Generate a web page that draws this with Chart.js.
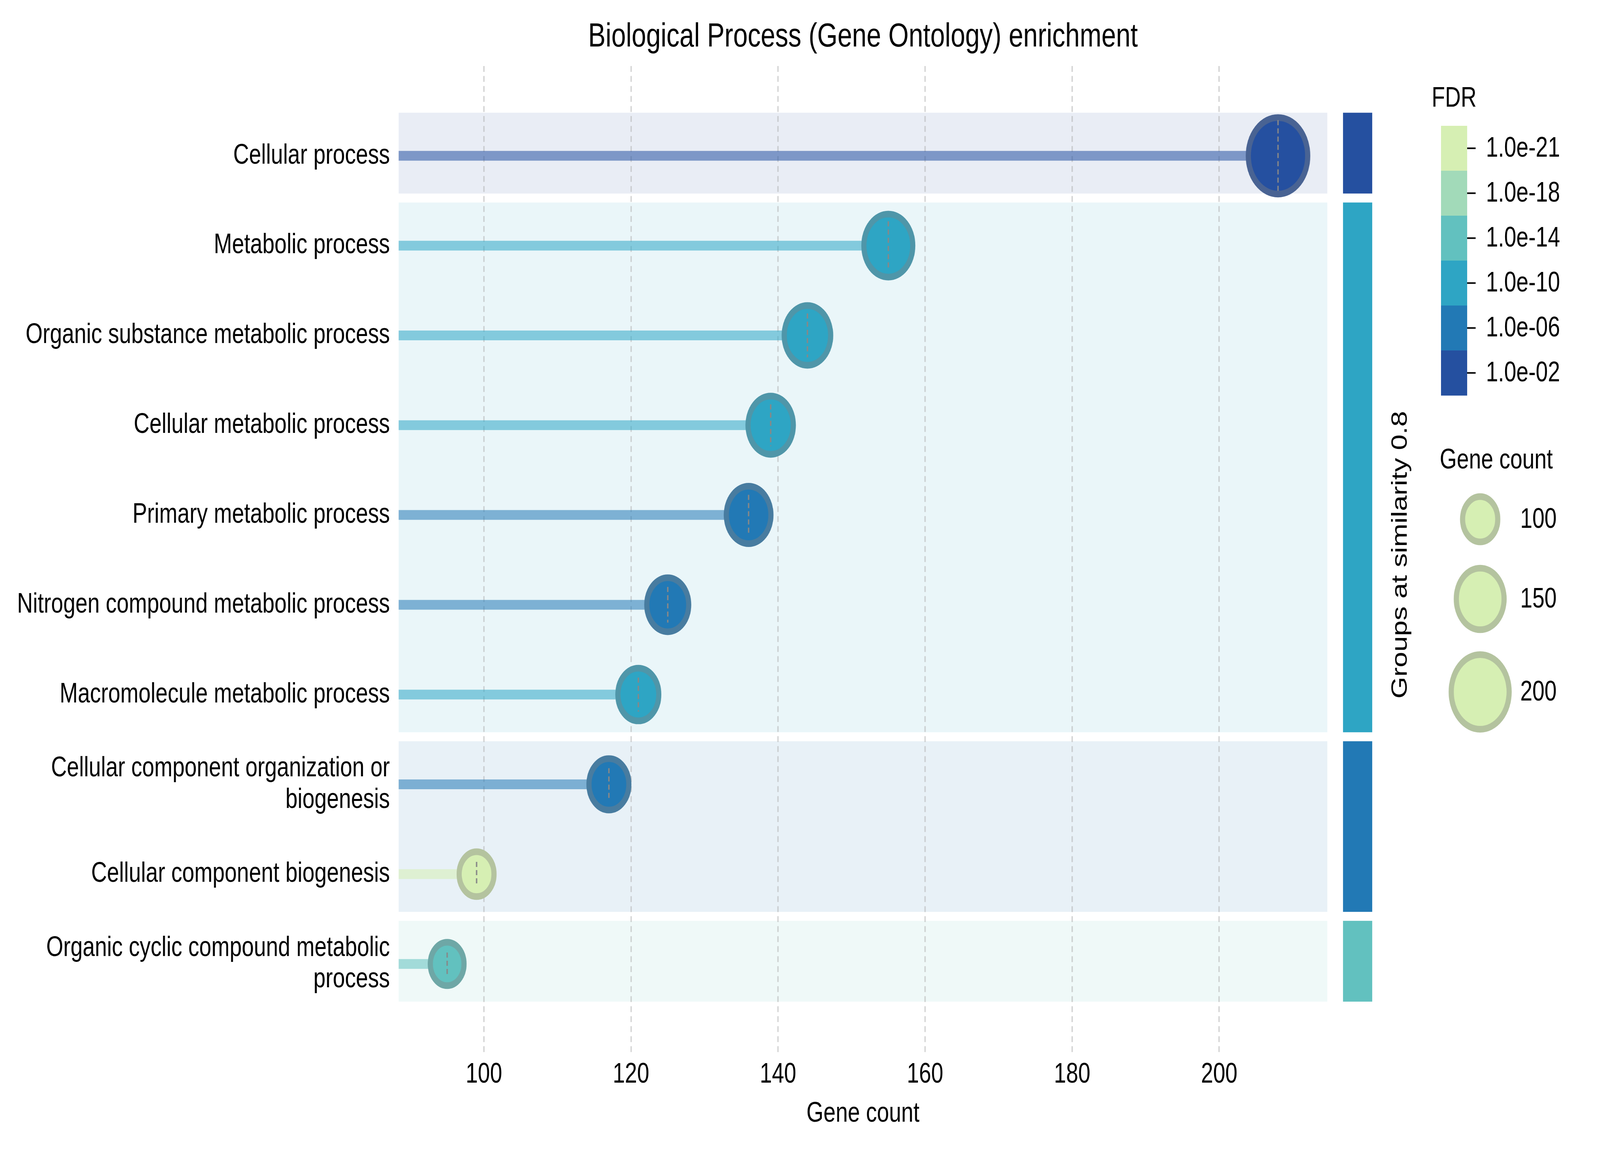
<!DOCTYPE html>
<html>
<head>
<meta charset="utf-8">
<script src="https://cdn.jsdelivr.net/npm/chart.js@4.4.1/dist/chart.umd.min.js"></script>
<style>
  html, body { margin: 0; padding: 0; background: #ffffff; overflow: hidden; }
  #wrap { position: absolute; left: 0; top: 0; width: 5274px; height: 2946px; transform-origin: 0 0; }
  #c { display: block; }
</style>
</head>
<body>
<div id="wrap"><canvas id="c" width="5274" height="2946"></canvas></div>
<script>
// ---------------- data ----------------
const chartTitle = 'Biological Process (Gene Ontology) enrichment';
const xAxisTitle = 'Gene count';
const categories = [
  'Cellular process',
  'Metabolic process',
  'Organic substance metabolic process',
  'Cellular metabolic process',
  'Primary metabolic process',
  'Nitrogen compound metabolic process',
  'Macromolecule metabolic process',
  'Cellular component organization or biogenesis',
  'Cellular component biogenesis',
  'Organic cyclic compound metabolic process'
];
const geneCounts = [208, 155, 144, 139, 136, 125, 121, 117, 99, 95];
const fdrValues = [1e-2, 1e-10, 1e-10, 1e-10, 1e-6, 1e-6, 1e-10, 1e-6, 1e-21, 1e-14];
const fdrLevels = [1e-21, 1e-18, 1e-14, 1e-10, 1e-6, 1e-2];
const fdrTickLabels = ['1.0e-21', '1.0e-18', '1.0e-14', '1.0e-10', '1.0e-06', '1.0e-02'];
const fdrColors = ['#d6efb3', '#a2dab9', '#62c1bf', '#2ea5c4', '#2279b5', '#2550a0'];
const groupStarts = [0, 1, 7, 9];
const groupEnds = [0, 6, 8, 9];
const groupTitle = 'Groups at similarity 0.8';
const fdrTitle = 'FDR';
const sizeTitle = 'Gene count';
const sizeLegendValues = [100, 150, 200];
const xTicks = [100, 120, 140, 160, 180, 200];
const xMin = 88.4, xMax = 214.7;

// ---------------- fit the fixed-size drawing to the window ----------------
const W = 5274, H = 2946;
(function fit() {
  const sx = window.innerWidth / W, sy = window.innerHeight / H;
  document.getElementById('wrap').style.transform = `scale(${sx}, ${sy})`;
})();

// ---------------- helpers ----------------
const FONT = "'Liberation Sans', Arial, Helvetica, sans-serif";
Chart.defaults.font.family = FONT;
Chart.defaults.color = '#000000';

function hexToRgb(h) {
  h = h.replace('#', '');
  return [parseInt(h.substr(0, 2), 16), parseInt(h.substr(2, 2), 16), parseInt(h.substr(4, 2), 16)];
}
function rgba(h, a) { const c = hexToRgb(h); return `rgba(${c[0]},${c[1]},${c[2]},${a})`; }
function edgeOf(h) {
  const c = hexToRgb(h);
  const m = c.map(v => Math.round(v * 0.6 + 128 * 0.4));
  return `rgb(${m[0]},${m[1]},${m[2]})`;
}
function fdrColor(v) {
  let best = 0, bd = Infinity;
  fdrLevels.forEach((l, i) => {
    const d = Math.abs(Math.log10(l) - Math.log10(v));
    if (d < bd) { bd = d; best = i; }
  });
  return fdrColors[best];
}
const BW = 17;
function radiusFor(count) { return 8 * Math.sqrt(count - 31) - BW / 2; }
function wrap(s, w) {
  const words = s.split(' ');
  const lines = [];
  let cur = '';
  for (const wd of words) {
    if (!cur) cur = wd;
    else if ((cur + ' ' + wd).length <= w) cur += ' ' + wd;
    else { lines.push(cur); cur = wd; }
  }
  if (cur) lines.push(cur);
  return lines.length > 1 ? lines : lines[0];
}

const pointColors = fdrValues.map(fdrColor);

// ---------------- datasets ----------------
const bubbleDataset = {
  type: 'bubble',
  label: 'GO terms',
  order: 0,
  data: geneCounts.map((c, i) => ({ x: c, y: i, r: radiusFor(c) })),
  backgroundColor: pointColors,
  borderColor: pointColors.map(edgeOf),
  borderWidth: BW
};
const stemDatasets = geneCounts.map((c, i) => ({
  type: 'line',
  label: 'stem ' + i,
  order: 1,
  data: [{ x: xMin, y: i }, { x: c, y: i }],
  borderColor: rgba(pointColors[i], 0.55),
  borderWidth: 25,
  borderCapStyle: 'butt',
  pointRadius: 0,
  fill: false
}));

// ---------------- plugins ----------------
const bandPlugin = {
  id: 'bands',
  beforeDraw(chart) {
    const { ctx, chartArea } = chart;
    const y = chart.scales.y;
    ctx.save();
    groupStarts.forEach((s, g) => {
      const col = pointColors[s];
      const top = y.getPixelForValue(s - 0.48);
      const bot = y.getPixelForValue(groupEnds[g] + 0.42);
      ctx.fillStyle = rgba(col, 0.1);
      ctx.fillRect(chartArea.left, top, chartArea.right - chartArea.left, bot - top);
    });
    ctx.restore();
  }
};

const centerLinePlugin = {
  id: 'centerLines',
  afterDatasetsDraw(chart) {
    const { ctx } = chart;
    const xs = chart.scales.x, ys = chart.scales.y;
    ctx.save();
    ctx.strokeStyle = '#888888';
    ctx.lineWidth = 4.5;
    ctx.setLineDash([13, 8]);
    geneCounts.forEach((c, i) => {
      const px = xs.getPixelForValue(c);
      const py = ys.getPixelForValue(i);
      const h = 0.55 * (c - 42);
      ctx.beginPath();
      ctx.moveTo(px, py - h);
      ctx.lineTo(px, py + h);
      ctx.stroke();
    });
    ctx.restore();
  }
};

const decorPlugin = {
  id: 'decor',
  afterDraw(chart) {
    const { ctx, chartArea } = chart;
    const ys = chart.scales.y;
    const R = chartArea.right;
    ctx.save();
    // title
    ctx.fillStyle = '#000';
    ctx.font = `86px ${FONT}`;
    ctx.textAlign = 'center';
    ctx.textBaseline = 'alphabetic';
    ctx.fillText(chartTitle, (chartArea.left + chartArea.right) / 2, 119);

    // group strip
    groupStarts.forEach((s, g) => {
      const top = ys.getPixelForValue(s - 0.48);
      const bot = ys.getPixelForValue(groupEnds[g] + 0.42);
      ctx.fillStyle = pointColors[s];
      ctx.fillRect(R + 52, top, 96, bot - top);
    });

    // rotated group label
    ctx.save();
    ctx.translate(R + 242, (chartArea.top + chartArea.bottom) / 2 - 13);
    ctx.rotate(-Math.PI / 2);
    ctx.font = `72px ${FONT}`;
    ctx.fillStyle = '#000';
    ctx.textAlign = 'center';
    ctx.textBaseline = 'middle';
    ctx.fillText(groupTitle, 0, 0);
    ctx.restore();

    // FDR colorbar
    const cbX = R + 375, cbW = 86, cbTop = 322, segH = 115;
    ctx.font = `72px ${FONT}`;
    ctx.textAlign = 'center';
    ctx.textBaseline = 'alphabetic';
    ctx.fillStyle = '#000';
    ctx.fillText(fdrTitle, cbX + cbW / 2, 273);
    fdrColors.forEach((col, i) => {
      ctx.fillStyle = col;
      ctx.fillRect(cbX, cbTop + i * segH, cbW, segH + 0.5);
    });
    ctx.strokeStyle = '#000';
    ctx.lineWidth = 4;
    ctx.textAlign = 'left';
    ctx.textBaseline = 'middle';
    fdrTickLabels.forEach((t, i) => {
      const yy = cbTop + i * segH + segH / 2;
      ctx.beginPath();
      ctx.moveTo(cbX + cbW, yy);
      ctx.lineTo(cbX + cbW + 28, yy);
      ctx.stroke();
      ctx.fillStyle = '#000';
      ctx.fillText(t, cbX + cbW + 62, yy + 2);
    });

    // size legend
    ctx.textAlign = 'center';
    ctx.textBaseline = 'alphabetic';
    ctx.fillText(sizeTitle, R + 557, 1199);
    const bubbleYs = [1329, 1533, 1771];
    const legendFill = fdrColors[0];
    sizeLegendValues.forEach((v, i) => {
      const r = radiusFor(v);
      ctx.beginPath();
      ctx.arc(R + 504, bubbleYs[i], r, 0, Math.PI * 2);
      ctx.fillStyle = legendFill;
      ctx.fill();
      ctx.lineWidth = BW;
      ctx.strokeStyle = edgeOf(legendFill);
      ctx.stroke();
      ctx.fillStyle = '#000';
      ctx.textAlign = 'left';
      ctx.textBaseline = 'middle';
      ctx.fillText(String(v), R + 636, bubbleYs[i] + 2);
    });
    ctx.restore();
  }
};

// ---------------- chart ----------------
new Chart(document.getElementById('c'), {
  data: { datasets: [bubbleDataset, ...stemDatasets] },
  options: {
    responsive: false,
    devicePixelRatio: 1,
    animation: false,
    events: [],
    layout: { padding: { left: 0, top: 169, right: 899, bottom: 0 } },
    plugins: {
      legend: { display: false },
      tooltip: { enabled: false },
      title: { display: false }
    },
    scales: {
      x: {
        type: 'linear',
        position: 'bottom',
        min: xMin,
        max: xMax,
        afterBuildTicks: s => { s.ticks = xTicks.map(v => ({ value: v })); },
        afterFit: s => { s.height = 249; },
        grid: { display: true, color: 'rgba(176,176,176,0.55)', lineWidth: 4.5, drawTicks: false },
        border: { display: false, dash: [15, 10.6] },
        ticks: { font: { size: 72 }, color: '#000', padding: 11, maxRotation: 0, autoSkip: false },
        title: { display: true, text: xAxisTitle, font: { size: 72 }, color: '#000', padding: { top: 0, bottom: 52 } }
      },
      y: {
        type: 'linear',
        position: 'left',
        min: -1,
        max: 10,
        reverse: true,
        afterBuildTicks: s => { s.ticks = categories.map((_, i) => ({ value: i })); },
        afterFit: s => { s.width = 1314; },
        grid: { display: false, drawTicks: false },
        border: { display: false },
        ticks: {
          font: { size: 72, lineHeight: 1.12 },
          color: '#000',
          padding: 29,
          autoSkip: false,
          callback: v => wrap(categories[v], 35)
        }
      }
    }
  },
  plugins: [bandPlugin, centerLinePlugin, decorPlugin]
});
</script>
</body>
</html>
